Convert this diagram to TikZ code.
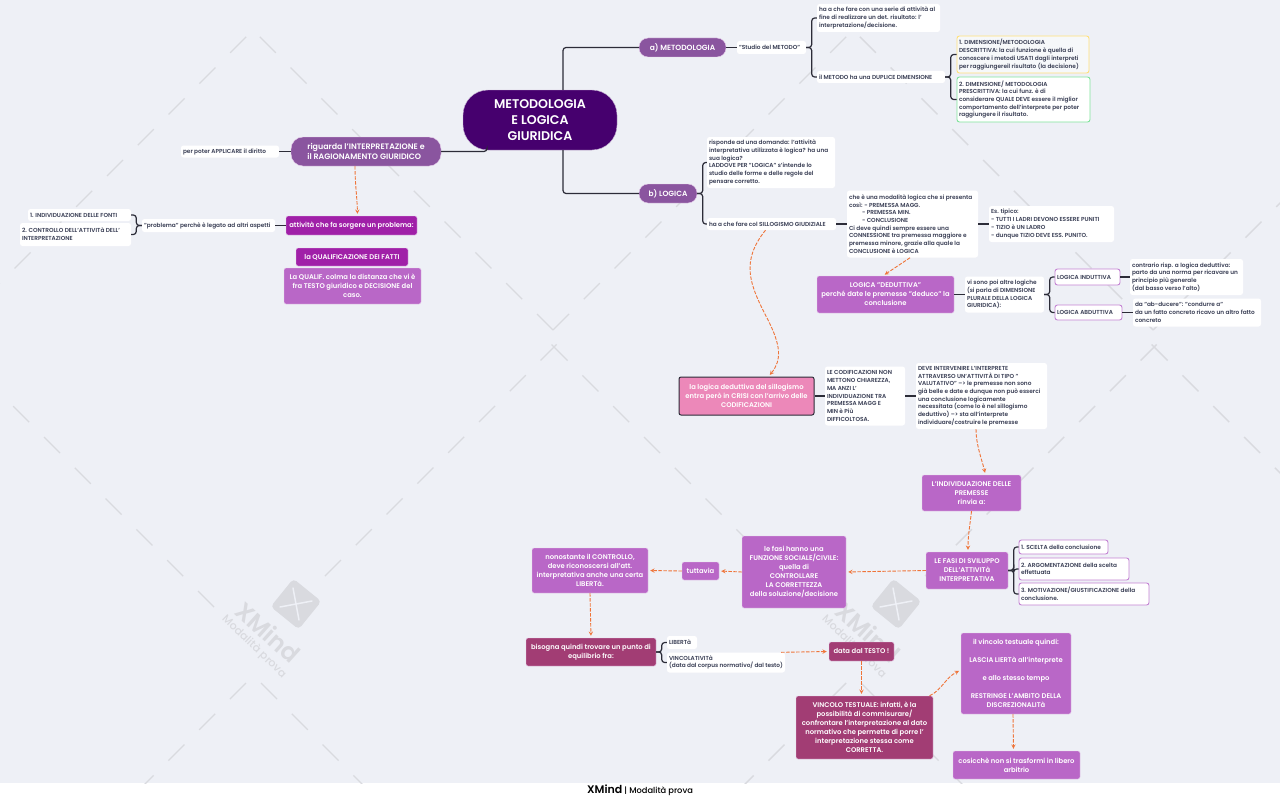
\documentclass[tikz,border=0pt]{standalone}
\usepackage{fontspec}
\setmainfont{Poppins}[UprightFont=* Medium,BoldFont=* SemiBold]
\definecolor{sheet}{HTML}{EEF0F6}
\definecolor{ghost}{HTML}{D9DADF}
\definecolor{ink}{HTML}{3A3F55}
\definecolor{wire}{HTML}{2C2C38}
\definecolor{relcolor}{HTML}{EF7439}
\definecolor{rootcolor}{HTML}{46006E}
\definecolor{branchcolor}{HTML}{8A559F}
\definecolor{violet}{HTML}{A020A8}
\definecolor{orchid}{HTML}{B967C7}
\definecolor{rose}{HTML}{EC88B9}
\definecolor{wine}{HTML}{A23D74}
\definecolor{outline}{HTML}{C483D3}
\definecolor{yellowline}{HTML}{FFE07A}
\definecolor{greenline}{HTML}{7FE39B}

\begin{document}
\begin{tikzpicture}[ x=1pt, y=-1pt, >=stealth,
        boxsize/.style 2 args={ minimum width=#1pt, minimum height=#2pt },
        textsize/.style 2 args={ text width=#1pt-4pt, minimum height=#2pt },
        note/.style={ fill=white, rounded corners=2.5pt, text=ink, align=flush left,
          inner xsep=2pt, inner ysep=0pt,
          font=\fontsize{5.8}{7.7}\selectfont\bfseries },
        framed/.style={ note, draw=outline, line width=.9pt },
        topic/.style={ rounded corners=2pt, draw=white!70!orchid, line width=.4pt,
          text=white, align=center, inner xsep=2pt, inner ysep=0pt,
          font=\fontsize{6.8}{9}\selectfont\bfseries },
        pill/.style={ topic, rounded corners=9pt, fill=branchcolor,
          font=\fontsize{7.5}{10.5}\selectfont\bfseries },
        branch/.style={ draw=wire, line width=1.2pt, rounded corners=3pt },
        relation/.style={ ->, draw=relcolor, line width=.9pt,
          dash pattern=on 3.5pt off 1.5pt, shorten >=2pt },
        dashmark/.style={ draw=ghost, line width=1.4pt } ]

        \useasboundingbox (0,0) rectangle (1280,800);
        \fill[white] (0,0) rectangle (1280,800);
        \fill[sheet] (0,0) rectangle (1280,783);

        \begin{scope}
        \clip (0,0) rectangle (1280,783);
        \foreach \t in {-600,0,600,1200} {
        \foreach \k in {0,...,8}
        \draw[dashmark] ({\t+206-30.8*\k-8},{599-30.8*\k-8}) -- ++(16,16);
        \foreach \k in {0,...,7}
        \draw[dashmark] ({\t+333+30.8*\k-8},{568-30.8*\k+8}) -- ++(16,-16);
        \foreach \k in {0,...,9} {
        \draw[dashmark] ({\t+545-30.8*\k-8},{322-30.8*\k-8}) -- ++(16,16);
        \draw[dashmark] ({\t+561+30.8*\k-8},{322-30.8*\k+8}) -- ++(16,-16);
        }
        \foreach \k in {0,...,3} {
        \draw[dashmark] ({\t+238-30.8*\k-8},{691+30.8*\k+8}) -- ++(16,-16);
        \draw[dashmark] ({\t+269+30.8*\k-8},{691+30.8*\k-8}) -- ++(16,16);
        }
        }
        \foreach \t in {296,896} {
        \node[fill=ghost, rounded corners=4pt, minimum size=36pt, rotate=-39]
          (logo\t) at (\t,604) {};
        \draw[draw=sheet, line width=1.5pt, line cap=round]
          (\t-3,588) -- (\t+3,620) (\t-16,607) -- (\t+16,601);
        \node[text=ghost, rotate=-42, font=\fontsize{24}{24}\selectfont\bfseries]
          (mark\t) at (\t-28,632) {XMind};
        \node[text=ghost, rotate=-44, font=\fontsize{11}{11}\selectfont]
          (trial\t) at (\t-42,647) {Modalità prova};
        }
        \end{scope}

        \node[topic, fill=rootcolor, draw=white!70!rootcolor, rounded corners=25pt,
          boxsize={154}{60}, font=\fontsize{12.6}{15.7}\selectfont\bfseries]
          (root) at (540,120) {METODOLOGIA\\E LOGICA\\GIURIDICA};

        \node[pill, boxsize={87}{19}] (metodologia) at (682.5,47.5) {a) METODOLOGIA};
        \node[note, textsize={69}{13}] (studio) at (771.5,47.5) {"Studio del METODO"};
        \node[note, textsize={123}{28}] (attivita) at (878.5,18)
          {ha a che fare con una serie di attività al\\fine di realizzare un det. risultato: l'\\interpretazione/decisione.};
        \node[note, textsize={128}{12}] (duplice) at (881,77)
          {il METODO ha una DUPLICE DIMENSIONE};
        \node[framed, fill=white!50!sheet, draw=yellowline, textsize={132}{37}] (descrittiva) at (1023,54.5)
          {1. DIMENSIONE/METODOLOGIA\\DESCRITTIVA: la cui funzione è quella di\\conoscere i metodi USATI dagli interpreti\\per raggiungereil risultato (la decisione)};
        \node[framed, draw=greenline, textsize={133}{45}] (prescrittiva) at (1023.5,99.5)
          {2. DIMENSIONE/ METODOLOGIA\\PRESCRITTIVA: la cui funz. è di\\considerare QUALE DEVE essere il miglior\\comportamento dell'interprete per poter\\raggiungere il risultato.};

        \node[pill, align=left, rounded corners=12pt, boxsize={150}{29}, font=\fontsize{7.9}{10.5}\selectfont\bfseries]
          (riguarda) at (366,151.5) {riguarda l'INTERPRETAZIONE e\\il RAGIONAMENTO GIURIDICO};
        \node[note, textsize={98}{12}] (applicare) at (230,151.5) {per poter APPLICARE il diritto};
        \node[topic, fill=violet, boxsize={131}{19}] (problema) at (351.5,225.5)
          {attività che fa sorgere un problema:};
        \node[note, textsize={133}{13}] (aspetti) at (208.5,225.5)
          {"problema" perchè è legato ad altri aspetti};
        \node[note, textsize={103}{12}] (fonti) at (79.5,215) {1. INDIVIDUAZIONE DELLE FONTI};
        \node[note, textsize={111}{23}] (controllo) at (75.5,234.5)
          {2. CONTROLLO DELL'ATTIVITà DELL'\\INTERPRETAZIONE};
        \node[topic, fill=violet, boxsize={112}{18}] (fatti) at (352,257) {la QUALIFICAZIONE DEI FATTI};
        \node[topic, fill=orchid, boxsize={137}{36}] (qualif) at (352.5,286)
          {La QUALIF. colma la distanza che vi è\\fra TESTO giuridico e DECISIONE del\\caso.};

        \node[pill, boxsize={58}{19}] (logica) at (668,193.5) {b) LOGICA};
        \node[note, textsize={128}{51}] (risponde) at (771,162.5)
          {risponde ad una domanda: l'attività\\interpretativa utilizzata è logica? ha una\\sua logica?\\LADDOVE PER "LOGICA" s'intende lo\\studio delle forme e delle regole del\\pensare corretto.};
        \node[note, textsize={129}{12}] (sillogismo) at (771.5,224)
          {ha a che fare col SILLOGISMO GIUDIZIALE};
        \node[note, textsize={131}{67}] (premessa) at (912.5,224)
          {che è una modalità logica che si presenta\\così: - PREMESSA MAGG.\\\hspace*{13pt}- PREMESSA MIN.\\\hspace*{13pt}- CONCLUSIONE\\Ci deve quindi sempre essere una\\CONNESSIONE tra premessa maggiore e\\premessa minore, grazie alla quale la\\CONCLUSIONE è LOGICA};
        \node[note, textsize={125}{36}] (tipico) at (1051.5,224)
          {Es. tipico:\\- TUTTI I LADRI DEVONO ESSERE PUNITI\\- TIZIO è UN LADRO\\- dunque TIZIO DEVE ESS. PUNITO.};
        \node[topic, fill=orchid, boxsize={137}{37}] (deduttiva) at (885.5,294.5)
          {LOGICA "DEDUTTIVA"\\perché date le premesse "deduco" la\\conclusione};
        \node[note, textsize={79}{36}] (plurale) at (1004.5,294.5)
          {vi sono poi altre logiche\\(si parla di DIMENSIONE\\PLURALE DELLA LOGICA\\GIURIDICA):};
        \node[framed, textsize={65}{16}] (induttiva) at (1087.5,277) {LOGICA INDUTTIVA};
        \node[framed, textsize={67}{15}] (abduttiva) at (1088.5,312.5) {LOGICA ABDUTTIVA};
        \node[note, textsize={113}{36}] (contrario) at (1186.5,277)
          {contrario risp. a logica deduttiva:\\parto da una norma per ricavare un\\principio più generale\\(dal basso verso l'alto)};
        \node[note, textsize={128}{28}] (abducere) at (1197,312.5)
          {da "ab-ducere": "condurre a"\\da un fatto concreto ricavo un altro fatto\\concreto};

        \node[topic, fill=rose, draw=wire, line width=1pt, boxsize={135}{38}] (crisi) at (746.5,396)
          {la logica deduttiva del sillogismo\\entra però in CRISI con l'arrivo delle\\CODIFICAZIONI};
        \node[note, textsize={80}{59}] (codifica) at (865,396)
          {LE CODIFICAZIONI NON\\METTONO CHIAREZZA,\\MA ANZI L'\\INDIVIDUAZIONE TRA\\PREMESSA MAGG E\\MIN è Più\\DIFFICOLTOSA.};
        \node[note, textsize={131}{66}] (interprete) at (981.5,396)
          {DEVE INTERVENIRE L'INTERPRETE\\ATTRAVERSO UN'ATTIVITÀ DI TIPO "\\VALUTATIVO" --> le premesse non sono\\già belle e date e dunque non può esserci\\una conclusione logicamente\\necessitata (come lo è nel sillogismo\\deduttivo) --> sta all'interprete\\individuare/costruire le premesse};
        \node[topic, fill=orchid, boxsize={99}{36}] (premesse) at (971.5,493)
          {L'INDIVIDUAZIONE DELLE\\PREMESSE\\rinvia a:};
        \node[topic, fill=orchid, boxsize={82}{37}] (fasi) at (967,570.5)
          {LE FASI DI SVILUPPO\\DELL'ATTIVITà\\INTERPRETATIVA};
        \node[framed, textsize={89}{14}] (scelta) at (1063.5,547) {1. SCELTA della conclusione};
        \node[framed, textsize={110}{22}] (argomenta) at (1074,569)
          {2. ARGOMENTAZIONE della scelta\\effettuata};
        \node[framed, textsize={130}{22}] (motiva) at (1084,594)
          {3. MOTIVAZIONE/GIUSTIFICAZIONE della\\conclusione.};
        \node[topic, fill=orchid, boxsize={104}{72}] (funzione) at (794,572)
          {le fasi hanno una\\FUNZIONE SOCIALE/CIVILE:\\quella di\\CONTROLLARE\\LA CORRETTEZZA\\della soluzione/decisione};
        \node[topic, fill=orchid, boxsize={37}{18}] (tuttavia) at (700.5,571) {tuttavia};
        \node[topic, fill=orchid, boxsize={116}{45}] (liberta) at (590,570.5)
          {nonostante il CONTROLLO,\\deve riconoscersi all'att.\\interpretativa anche una certa\\LIBERTà.};
        \node[topic, fill=wine, boxsize={130}{28}] (equilibrio) at (591,652)
          {bisogna quindi trovare un punto di\\equilibrio fra:};
        \node[note, textsize={30}{13}] (libera) at (682,642.5) {LIBERTà};
        \node[note, textsize={118}{20}] (vincolativita) at (726,662.5)
          {VINCOLATIVITà\\(data dal corpus normativo/ dal testo)};
        \node[topic, fill=wine, boxsize={65}{19}] (testo) at (861.5,651.5) {data dal TESTO !};
        \node[topic, fill=wine, boxsize={137}{63}] (vincolo) at (864.5,727.5)
          {VINCOLO TESTUALE: infatti, è la\\possibilità di commisurare/\\confrontare l'interpretazione al dato\\normativo che permette di porre l'\\interpretazione stessa come\\CORRETTA.};
        \node[topic, fill=orchid, boxsize={110}{81}] (quindi) at (1016,673.5)
          {il vincolo testuale quindi:\\[9pt]LASCIA LIERTà all'interprete\\[9pt]e allo stesso tempo\\[9pt]RESTRINGE L'AMBITO DELLA\\DISCREZIONALITà};
        \node[topic, fill=orchid, boxsize={127}{28}] (cosicche) at (1016.5,765)
          {cosicchè non si trasformi in libero\\arbitrio};

        \node[text=black, font=\fontsize{8.3}{10}\selectfont] (footer) at (640,790)
          {{\fontsize{11}{10}\selectfont\bfseries XMind} | Modalità prova};

        \foreach \p/\c in {metodologia/studio,sillogismo/premessa,premessa/tipico,
          deduttiva/plurale,induttiva/contrario,abduttiva/abducere,crisi/codifica,
          codifica/interprete}
        \draw[branch] (\p.east) -- (\c.west);
        \draw[branch] (riguarda.west) -- (applicare.east);
        \draw[branch] (problema.west) -- (aspetti.east);

        \foreach \p/\c in {studio/attivita,studio/duplice,duplice/descrittiva,
          duplice/prescrittiva,logica/risponde,logica/sillogismo,plurale/induttiva,
          plurale/abduttiva,fasi/scelta,fasi/argomenta,fasi/motiva,
          equilibrio/libera,equilibrio/vincolativita}
        \draw[branch] (\p.east) -- ++(5.5,0) |- (\c.west);

        \foreach \p/\c in {aspetti/fonti,aspetti/controllo}
        \draw[branch] (\p.west) -- ++(-5.5,0) |- (\c.east);

        \draw[branch] ([xshift=23pt]root.south) |- (logica.west);
        \draw[branch] ([xshift=23pt]root.north) |- (metodologia.west);
        \draw[branch] (riguarda.east) -| ([xshift=-53pt]root.south);

        \draw[relation] ([xshift=-11pt]riguarda.south) .. controls (355,185) and (357,195) .. ([xshift=6pt]problema.north);
        \draw[relation] ([xshift=-6pt]sillogismo.south) .. controls (740,262) and (750,285) .. (767,318)
          .. controls (781,345) and (782,360) .. ([xshift=22pt]crisi.north);
        \draw[relation] ([xshift=-2.5pt]premessa.south) -- ([xshift=-2.5pt]deduttiva.north);
        \draw[relation] ([xshift=-5.5pt]interprete.south) .. controls (976,445) and (982,460) .. ([xshift=14pt]premesse.north);
        \draw[relation] (premesse.south) .. controls (970,525) and (968,535) .. ([xshift=1pt]fasi.north);
        \draw[relation] (fasi.west) -- (funzione.east);
        \draw[relation] (funzione.west) -- (tuttavia.east);
        \draw[relation] (tuttavia.west) -- (liberta.east);
        \draw[relation] (liberta.south) -- (equilibrio.north);
        \draw[relation] ([xshift=55pt]vincolativita.north) -- (testo.west);
        \draw[relation] (testo.south) -- ([xshift=-3pt]vincolo.north);
        \draw[relation] ([xshift=65pt]vincolo.north) .. controls (942,690) and (945,678) .. ([yshift=3.5pt]quindi.west);
        \draw[relation] ([xshift=-3pt]quindi.south) -- ([xshift=-3pt]cosicche.north);
\end{tikzpicture}
\end{document}
